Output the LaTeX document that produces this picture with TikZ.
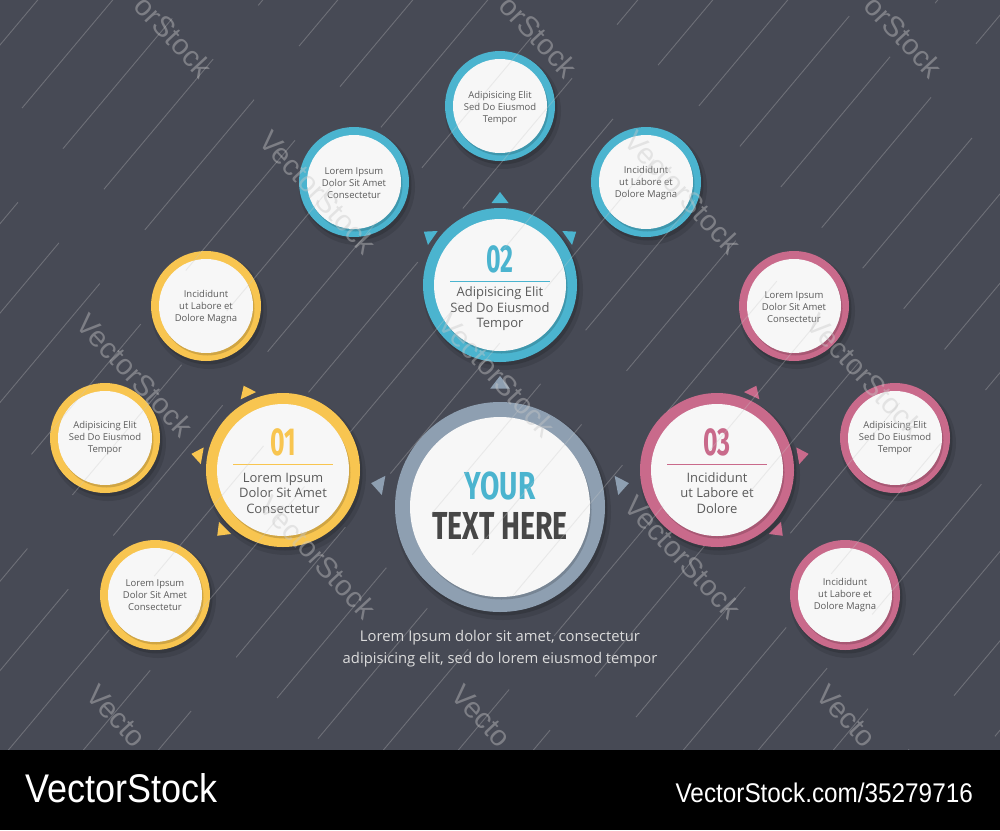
\documentclass[tikz,border=0pt]{standalone}
\usepackage{fontspec}
\usepackage{graphicx}
\setmainfont{Open Sans}
\newfontfamily\condfont{Fira Sans}
\newfontfamily\bandfont{Liberation Sans}
\newfontfamily\wmplain{Liberation Sans}
\usetikzlibrary{calc}
\definecolor{bg}{HTML}{474A55}
\definecolor{cblue}{HTML}{4BB4CF}
\definecolor{cyellow}{HTML}{F8C550}
\definecolor{cpink}{HTML}{C96A8B}
\definecolor{cgray}{HTML}{8E9FB1}
\definecolor{disc}{HTML}{F7F7F7}
\definecolor{txtgray}{HTML}{5B5B5B}
\definecolor{darktxt}{HTML}{474747}
\definecolor{lighttxt}{HTML}{DCDCDC}
\definecolor{wmgray}{HTML}{C8C8C8}
\newcommand\narrow[2]{\scalebox{#1}[1]{#2}}
\newcommand\bubble[5]{% name, center, outer r, inner r, colour
  \fill[black,opacity=0.10] ($(#2)+(3,5)$) circle (#3+3);
  \fill[black,opacity=0.15] ($(#2)+(2,3)$) circle (#3+0.5);
  \node[circle,fill=#5,inner sep=0pt,minimum size={2*#3pt}] (#1) at (#2) {};
  \fill[black,opacity=0.16] ($(#2)+(1.5,2.5)$) circle (#4);
  \node[circle,fill=disc,inner sep=0pt,minimum size={2*#4pt}] (#1in) at (#2) {};
}
\newcommand\pointer[5]{% colour, node, angle, distance, scale
  \fill[#1,shift={($(#2)+(#3:#4pt)$)},rotate=#3,scale=#5] (7,0) -- (-4,8.5) -- (-4,-8.5) -- cycle;
}
\begin{document}
\begin{tikzpicture}[x=1pt,y=-1pt,
  smalltxt/.style={font=\fontsize{9.5}{12}\selectfont,text=txtgray,align=center,inner sep=0pt},
  bigtxt/.style={font=\fontsize{13}{15.5}\selectfont,text=txtgray,align=center,inner sep=0pt},
  numtxt/.style={font=\condfont\bfseries\fontsize{39}{39}\selectfont,inner sep=0pt},
  wmtext/.style={font=\wmplain\fontsize{29}{29}\selectfont,text=wmgray,opacity=0.42,rotate=-47,inner sep=0pt},
  wmline/.style={draw=wmgray,opacity=0.3,line width=0.9pt},
]
\useasboundingbox (0,0) rectangle (1000,830);
\fill[bg] (0,0) rectangle (1000,750);

% central circle
\bubble{c0}{500,507}{105}{90}{cgray}
% main step circles
\bubble{c1}{283,470}{77}{66}{cyellow}
\bubble{c2}{500,285}{77}{66}{cblue}
\bubble{c3}{717,470}{77}{66}{cpink}
% small circles
\bubble{s2a}{500,106}{55}{47}{cblue}
\bubble{s2b}{354,182}{55}{47}{cblue}
\bubble{s2c}{646,182}{55}{47}{cblue}
\bubble{s1a}{206,306}{55}{47}{cyellow}
\bubble{s1b}{105,438}{55}{47}{cyellow}
\bubble{s1c}{155,595}{55}{47}{cyellow}
\bubble{s3a}{794,306}{55}{47}{cpink}
\bubble{s3b}{895,438}{55}{47}{cpink}
\bubble{s3c}{845,595}{55}{47}{cpink}

% pointers
\pointer{cgray}{c0}{90}{123}{1.15}
\pointer{cgray}{c0}{169.5}{123}{1.15}
\pointer{cgray}{c0}{10.5}{123}{1.15}
\pointer{cyellow}{c1}{115}{86}{1}
\pointer{cyellow}{c1}{170}{86}{1}
\pointer{cyellow}{c1}{225}{86}{1}
\pointer{cblue}{c2}{90}{86}{1}
\pointer{cblue}{c2}{145}{86}{1}
\pointer{cblue}{c2}{35}{86}{1}
\pointer{cpink}{c3}{65}{86}{1}
\pointer{cpink}{c3}{10}{86}{1}
\pointer{cpink}{c3}{-45}{86}{1}

% central text
\node[numtxt,text=cblue] (your) at (500,486) {\narrow{0.72}{YOUR}};
\node[numtxt,text=darktxt] (here) at (500,526) {\narrow{0.73}{TEXT HERE}};

% step texts
\node[numtxt,text=cyellow] (n1) at (283,442) {\narrow{0.64}{01}};
\draw[cyellow,line width=1pt] ($(c1)+(-50,-6)$) coordinate (l1a) -- ($(c1)+(50,-6)$) coordinate (l1b);
\node[bigtxt] (t1) at (283,493) {Lorem Ipsum\\Dolor Sit Amet\\Consectetur};

\node[numtxt,text=cblue] (n2) at (500,259) {\narrow{0.64}{02}};
\draw[cblue,line width=1pt] ($(c2)+(-50,-4)$) coordinate (l2a) -- ($(c2)+(50,-4)$) coordinate (l2b);
\node[bigtxt] (t2) at (500,309) {Adipisicing Elit\\Sed Do Eiusmod\\Tempor};

\node[numtxt,text=cpink] (n3) at (717,442) {\narrow{0.64}{03}};
\draw[cpink,line width=1pt] ($(c3)+(-50,-6)$) coordinate (l3a) -- ($(c3)+(50,-6)$) coordinate (l3b);
\node[bigtxt] (t3) at (717,493) {Incididunt\\ut Labore et\\Dolore};

% small texts
\node[smalltxt] (u2a) at (500,108) {Adipisicing Elit\\Sed Do Eiusmod\\Tempor};
\node[smalltxt] (u2b) at (354,183) {Lorem Ipsum\\Dolor Sit Amet\\Consectetur};
\node[smalltxt] (u2c) at (646,183) {Incididunt\\ut Labore et\\Dolore Magna};
\node[smalltxt] (u1a) at (206,307) {Incididunt\\ut Labore et\\Dolore Magna};
\node[smalltxt] (u1b) at (105,438) {Adipisicing Elit\\Sed Do Eiusmod\\Tempor};
\node[smalltxt] (u1c) at (155,595) {Lorem Ipsum\\Dolor Sit Amet\\Consectetur};
\node[smalltxt] (u3a) at (794,307) {Lorem Ipsum\\Dolor Sit Amet\\Consectetur};
\node[smalltxt] (u3b) at (895,438) {Adipisicing Elit\\Sed Do Eiusmod\\Tempor};
\node[smalltxt] (u3c) at (845,595) {Incididunt\\ut Labore et\\Dolore Magna};

% caption
\node[font=\fontsize{14.8}{22}\selectfont,text=lighttxt,align=center,inner sep=0pt] (cap) at (500,649)
  {Lorem Ipsum dolor sit amet, consectetur\\adipisicing elit, sed do lorem eiusmod tempor};

% watermark
\begin{scope}
\clip (0,0) rectangle (1000,750);
\foreach \k in {-10,...,13}
  \draw[wmline,dash pattern=on 170pt off 70pt,dash phase=\k*53pt] (\k*75,760) -- ++(50:1300pt);
\foreach \p in {{318,192},{683,192},{135,375},{497,375},{865,375},{318,557},{683,557}}
  \node[wmtext] at (\p) {VectorStock};
\foreach \p in {{200,80},{565,80},{930,80}}
  \node[wmtext,anchor=base east] at (\p) {orStock};
\foreach \p in {{84,696},{449,696},{814,696}}
  \node[wmtext,anchor=base west] at (\p) {Vecto};
\end{scope}

% bottom band
\fill[black] (0,750) rectangle (1000,830);
\node[font=\bandfont\fontsize{40}{40}\selectfont,text=white,anchor=base west,inner sep=0pt] (brand) at (25,802) {\narrow{0.9}{VectorStock}};
\node[font=\bandfont\fontsize{27}{27}\selectfont,text=white,anchor=base east,inner sep=0pt] (ref) at (973,802) {\narrow{0.9}{VectorStock.com/35279716}};
\end{tikzpicture}
\end{document}
